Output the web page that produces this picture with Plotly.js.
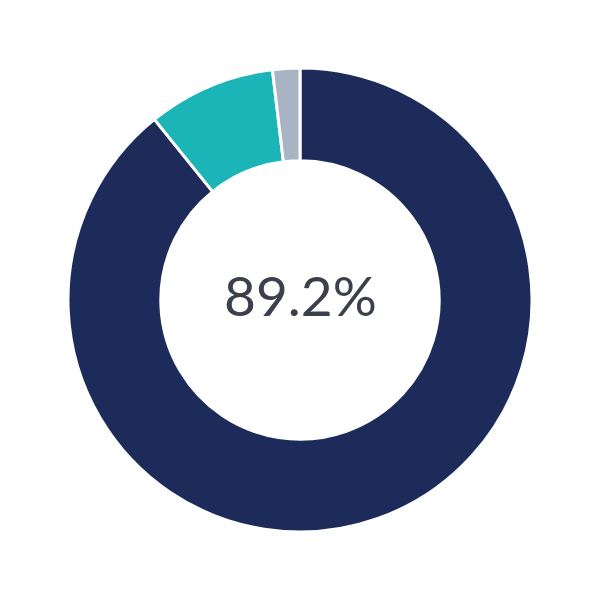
<!DOCTYPE html>
<html><head><meta charset="utf-8">
<script src="https://cdn.plot.ly/plotly-3.0.1.min.js"></script>
<style>html,body{margin:0;padding:0;background:#fff}</style>
</head><body>
<div id="chart" style="width:600px;height:600px"></div>
<script>
var labels = ["Primary", "Secondary", "Other"];
var values = [89.2, 8.9, 1.9];
var colors = ["#1c2b5a", "#1bb5b8", "#a8b3c3"];
var centerLabel = "89.2%";

Plotly.newPlot("chart", [{
  type: "pie",
  labels: labels,
  values: values,
  hole: 0.6,
  sort: false,
  direction: "clockwise",
  rotation: 0,
  textinfo: "none",
  hoverinfo: "none",
  marker: {colors: colors, line: {color: "#ffffff", width: 3}}
}], {
  width: 600, height: 600,
  margin: {l: 68, r: 68, t: 68, b: 68},
  showlegend: false,
  paper_bgcolor: "#ffffff",
  annotations: [{
    text: centerLabel, x: 0.5, y: 0.5, xref: "paper", yref: "paper",
    yshift: 5,
    showarrow: false, font: {family: "Lato", size: 55, color: "#3b404a"}
  }]
}, {displayModeBar: false, staticPlot: true});
</script>
</body></html>
